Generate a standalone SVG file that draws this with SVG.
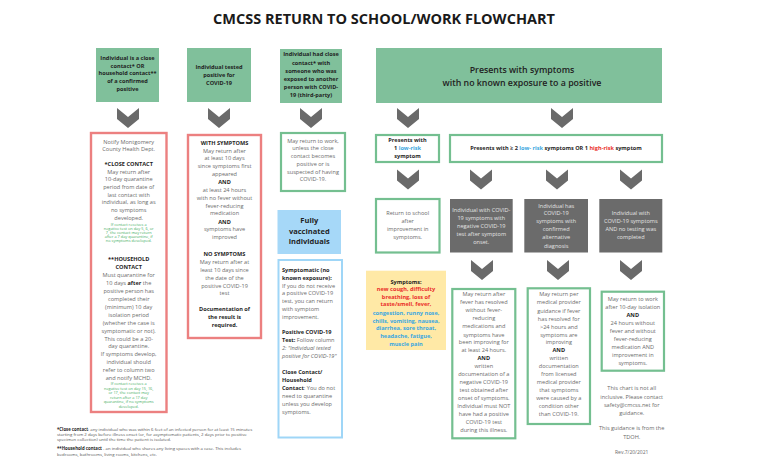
<svg xmlns="http://www.w3.org/2000/svg" width="768" height="466" viewBox="0 0 768 466">
<defs>
<style>
text{font-family:"Open Sans","Liberation Sans",sans-serif;text-anchor:middle;}
.t{font-size:5.6px;fill:#6b6b6b;}
.b{font-weight:700;fill:#1f1f1f;}
.h{font-size:5.6px;font-weight:700;fill:#1f1f1f;}
.gs{font-size:3.9px;fill:#3fae62;}
.w{font-size:5.6px;fill:#e4e4e4;}
.l{text-anchor:start;}
.hdr{fill:#80c09b;}
.gb{fill:#fff;stroke:#74bf90;stroke-width:2.2;}
.rb{fill:#fff;stroke:#ec8080;stroke-width:2.4;}
.gr{fill:#6b6b6b;}
.blue{fill:#3aa7e0;}
.red{fill:#ea2f2a;}
.chev{fill:#6a6a6a;}
.ft{font-size:4.3px;fill:#555;text-anchor:start;}
.fv{font-size:7.5px;font-weight:700;fill:#1f1f1f;}
</style>
<path id="chev" d="M-11,0 L0,9 L11,0 L11,11 L0,20 L-11,11 Z"/>
</defs>
<rect width="768" height="466" fill="#fff"/>
<text x="384" y="24" style="font-size:14.5px;font-weight:700;fill:#1a1a1a">CMCSS RETURN TO SCHOOL/WORK FLOWCHART</text>

<g id="connectors" class="chev">
<use href="#chev" x="128" y="108"/>
<use href="#chev" x="219" y="108"/>
<use href="#chev" x="311" y="108"/>
<use href="#chev" x="408" y="108"/>
<use href="#chev" x="562" y="108"/>
<use href="#chev" x="408" y="169.5"/>
<use href="#chev" x="481" y="169.5"/>
<use href="#chev" x="557" y="169.5"/>
<use href="#chev" x="631" y="169.5"/>
<use href="#chev" x="482" y="260"/>
<use href="#chev" x="558" y="260"/>
<use href="#chev" x="631" y="260"/>
</g>

<g id="close-contact">
<rect class="hdr" x="96" y="48" width="63" height="54"/>
<text class="h" x="127.5" y="60.3">Individual is a close</text>
<text class="h" x="127.5" y="68">contact* OR</text>
<text class="h" x="127.5" y="75.3">household contact**</text>
<text class="h" x="127.5" y="83.3">of a confirmed</text>
<text class="h" x="127.5" y="91.3">positive</text>
</g>

<g id="tested-positive">
<rect class="hdr" x="187" y="48" width="64" height="54"/>
<text class="h" x="219" y="68.7">Individual tested</text>
<text class="h" x="219" y="76.7">positive for</text>
<text class="h" x="219" y="84.7">COVID-19</text>
</g>

<g id="third-party">
<rect class="hdr" x="280" y="49" width="62" height="54"/>
<text class="h" x="311" y="56.3">Individual had close</text>
<text class="h" x="311" y="64.7">contact* with</text>
<text class="h" x="311" y="73">someone who was</text>
<text class="h" x="311" y="81">exposed to another</text>
<text class="h" x="311" y="89.3">person with COVID-</text>
<text class="h" x="311" y="97.3">19 (third-party)</text>
</g>

<g id="symptoms-no-exposure">
<rect class="hdr" x="376" y="48" width="286" height="55"/>
<text x="522" y="73" style="font-size:8.8px;font-weight:600;fill:#222">Presents with symptoms</text>
<text x="522" y="86.3" style="font-size:8.8px;font-weight:600;fill:#222">with no known exposure to a positive</text>
</g>

<g id="close-contact-guidance">
<rect class="rb" x="91" y="133" width="75.5" height="279"/>
<text class="t" x="128.7" y="143.7">Notify Montgomery</text>
<text class="t" x="128.7" y="151">County Health Dept.</text>
<text class="h" x="128.7" y="166.3">*CLOSE CONTACT</text>
<text class="t" x="128.7" y="174">May return after</text>
<text class="t" x="128.7" y="181.3">10-day quarantine</text>
<text class="t" x="128.7" y="189">period from date of</text>
<text class="t" x="128.7" y="196.7">last contact with</text>
<text class="t" x="128.7" y="204.3">individual, as long as</text>
<text class="t" x="128.7" y="212">no symptoms</text>
<text class="t" x="128.7" y="220">developed.</text>
<text class="gs" x="128.7" y="226">If contact receives a</text>
<text class="gs" x="128.7" y="230">negative test on day 5, 6, or</text>
<text class="gs" x="128.7" y="234">7, the contact may return</text>
<text class="gs" x="128.7" y="238.3">after a 7 day quarantine, if</text>
<text class="gs" x="128.7" y="242.3">no symptoms developed.</text>
<text class="h" x="128.7" y="260.7">**HOUSEHOLD</text>
<text class="h" x="128.7" y="269">CONTACT</text>
<text class="t" x="128.7" y="277">Must quarantine for</text>
<text class="t" x="128.7" y="285">10 days <tspan class="b">after</tspan> the</text>
<text class="t" x="128.7" y="293">positive person has</text>
<text class="t" x="128.7" y="301">completed their</text>
<text class="t" x="128.7" y="309">(minimum) 10 day</text>
<text class="t" x="128.7" y="317">isolation period</text>
<text class="t" x="128.7" y="325">(whether the case is</text>
<text class="t" x="128.7" y="333">symptomatic or not).</text>
<text class="t" x="128.7" y="341">This could be a 20-</text>
<text class="t" x="128.7" y="348">day quarantine.</text>
<text class="t" x="128.7" y="356">If symptoms develop,</text>
<text class="t" x="128.7" y="364">individual should</text>
<text class="t" x="128.7" y="372">refer to column two</text>
<text class="t" x="128.7" y="380">and notify MCHD.</text>
<text class="gs" x="128.7" y="385.4">If contact receives a</text>
<text class="gs" x="128.7" y="390">negative test on day 15, 16,</text>
<text class="gs" x="128.7" y="394.4">or 17, the contact may</text>
<text class="gs" x="128.7" y="399">return after a 17 day</text>
<text class="gs" x="128.7" y="403.4">quarantine, if no symptoms</text>
<text class="gs" x="128.7" y="407.6">developed.</text>
</g>

<g id="tested-positive-guidance">
<rect class="rb" x="188" y="135" width="73" height="203"/>
<text class="h" x="224.5" y="145.3">WITH SYMPTOMS</text>
<text class="t" x="224.5" y="152.7">May return after</text>
<text class="t" x="224.5" y="160.3">at least 10 days</text>
<text class="t" x="224.5" y="168">since symptoms first</text>
<text class="t" x="224.5" y="176">appeared</text>
<text class="h" x="224.5" y="183.7">AND</text>
<text class="t" x="224.5" y="192">at least 24 hours</text>
<text class="t" x="224.5" y="199.7">with no fever without</text>
<text class="t" x="224.5" y="207.7">fever-reducing</text>
<text class="t" x="224.5" y="215.3">medication</text>
<text class="h" x="224.5" y="223.7">AND</text>
<text class="t" x="224.5" y="231.3">symptoms have</text>
<text class="t" x="224.5" y="239">improved</text>
<text class="h" x="224.5" y="256">NO SYMPTOMS</text>
<text class="t" x="224.5" y="263.7">May return after at</text>
<text class="t" x="224.5" y="272">least 10 days since</text>
<text class="t" x="224.5" y="279.7">the date of the</text>
<text class="t" x="224.5" y="287.7">positive COVID-19</text>
<text class="t" x="224.5" y="295.3">test</text>
<text class="h" x="224.5" y="311.3">Documentation of</text>
<text class="h" x="224.5" y="319.3">the result is</text>
<text class="h" x="224.5" y="327.3">required.</text>
</g>

<g id="third-party-guidance">
<rect class="gb" x="281" y="133" width="64" height="58"/>
<text class="t" x="313" y="143">May return to work,</text>
<text class="t" x="313" y="150.3">unless the close</text>
<text class="t" x="313" y="158">contact becomes</text>
<text class="t" x="313" y="166">positive or is</text>
<text class="t" x="313" y="173.7">suspected of having</text>
<text class="t" x="313" y="181.3">COVID-19.</text>
</g>

<g id="fully-vaccinated">
<rect x="277.5" y="210" width="63.5" height="44" fill="#a6d8f8"/>
<text class="fv" x="309.3" y="223.2">Fully</text>
<text class="fv" x="309.3" y="233.5">vaccinated</text>
<text class="fv" x="309.3" y="243.8">individuals</text>
</g>

<g id="vaccinated-guidance">
<rect x="278.5" y="260" width="63.5" height="177.5" fill="#fff" stroke="#9fd6f7" stroke-width="2"/>
<text class="h l" x="282" y="272">Symptomatic (no</text>
<text class="h l" x="282" y="279.7">known exposure):</text>
<text class="t l" x="282" y="287.7">If you do not receive</text>
<text class="t l" x="282" y="295.3">a positive COVID-19</text>
<text class="t l" x="282" y="303.3">test, you can return</text>
<text class="t l" x="282" y="311.3">with symptom</text>
<text class="t l" x="282" y="319.3">improvement.</text>
<text class="h l" x="282" y="334">Positive COVID-19</text>
<text class="t l" x="282" y="342"><tspan class="b">Test:</tspan> Follow column</text>
<text class="t l" x="282" y="350" font-style="italic">2: "Individual tested</text>
<text class="t l" x="282" y="358" font-style="italic">positive for COVID-19"</text>
<text class="h l" x="282" y="374">Close Contact/</text>
<text class="h l" x="282" y="382">Household</text>
<text class="t l" x="282" y="390"><tspan class="b">Contact</tspan>: You do not</text>
<text class="t l" x="282" y="398">need to quarantine</text>
<text class="t l" x="282" y="406">unless you develop</text>
<text class="t l" x="282" y="414">symptoms.</text>
</g>

<g id="one-low-risk">
<rect class="gb" x="376" y="135" width="63" height="27"/>
<text class="h" x="407.5" y="142">Presents with</text>
<text class="h" x="407.5" y="149.7">1 <tspan class="blue">low-risk</tspan></text>
<text class="h" x="407.5" y="158">symptom</text>
</g>

<g id="two-low-or-high-risk">
<rect class="gb" x="450" y="135" width="212" height="27"/>
<text class="h" x="556" y="149.7">Presents with ≥ 2 <tspan class="blue">low- risk</tspan> symptoms OR 1 <tspan class="red">high-risk</tspan> symptom</text>
</g>

<g id="return-after-improvement">
<rect class="gb" x="376" y="199" width="63.5" height="53.5"/>
<text class="t" x="407.7" y="215.3">Return to school</text>
<text class="t" x="407.7" y="223">after</text>
<text class="t" x="407.7" y="231">improvement in</text>
<text class="t" x="407.7" y="239">symptoms.</text>
</g>

<g id="negative-test">
<rect class="gr" x="450" y="199" width="62.7" height="53.5"/>
<text class="w" x="481.3" y="212">Individual with COVID-</text>
<text class="w" x="481.3" y="220">19 symptoms with</text>
<text class="w" x="481.3" y="227.7">negative COVID-19</text>
<text class="w" x="481.3" y="235.7">test after symptom</text>
<text class="w" x="481.3" y="243.7">onset.</text>
</g>

<g id="alternative-diagnosis">
<rect class="gr" x="524.3" y="199" width="63.7" height="53.5"/>
<text class="w" x="556.2" y="208">Individual has</text>
<text class="w" x="556.2" y="215.3">COVID-19</text>
<text class="w" x="556.2" y="223">symptoms with</text>
<text class="w" x="556.2" y="231">confirmed</text>
<text class="w" x="556.2" y="239.3">alternative</text>
<text class="w" x="556.2" y="247.7">diagnosis</text>
</g>

<g id="no-testing">
<rect class="gr" x="599.3" y="199" width="63" height="53.5"/>
<text class="w" x="630.8" y="215.3">Individual with</text>
<text class="w" x="630.8" y="223.3">COVID-19 symptoms</text>
<text class="w" x="630.8" y="231.3">AND no testing was</text>
<text class="w" x="630.8" y="239">completed</text>
</g>

<g id="symptoms-list">
<rect x="366" y="270.7" width="80" height="79.3" fill="#ffe9a6"/>
<text class="h" x="406" y="283.7">Symptoms:</text>
<text class="h red" x="406" y="291.3">new cough, difficulty</text>
<text class="h red" x="406" y="298.7">breathing, loss of</text>
<text class="h red" x="406" y="306.3">taste/smell, fever,</text>
<text class="h blue" x="406" y="314.7">congestion, runny nose,</text>
<text class="h blue" x="406" y="322.7">chills, vomiting, nausea,</text>
<text class="h blue" x="406" y="330.3">diarrhea, sore throat,</text>
<text class="h blue" x="406" y="338">headache, fatigue,</text>
<text class="h blue" x="406" y="346">muscle pain</text>
</g>

<g id="negative-test-guidance">
<rect class="gb" x="452.3" y="289" width="63" height="149.3"/>
<text class="t" x="483.8" y="295.7">May return after</text>
<text class="t" x="483.8" y="304">fever has resolved</text>
<text class="t" x="483.8" y="312">without fever-</text>
<text class="t" x="483.8" y="320.3">reducing</text>
<text class="t" x="483.8" y="328.3">medications and</text>
<text class="t" x="483.8" y="336.7">symptoms have</text>
<text class="t" x="483.8" y="344.3">been improving for</text>
<text class="t" x="483.8" y="352">at least 24 hours.</text>
<text class="h" x="483.8" y="360.3">AND</text>
<text class="t" x="483.8" y="368.3">written</text>
<text class="t" x="483.8" y="376.3">documentation of a</text>
<text class="t" x="483.8" y="384.3">negative COVID-19</text>
<text class="t" x="483.8" y="392.3">test obtained after</text>
<text class="t" x="483.8" y="400">onset of symptoms.</text>
<text class="t" x="483.8" y="408">Individual must NOT</text>
<text class="t" x="483.8" y="416">have had a positive</text>
<text class="t" x="483.8" y="424.3">COVID-19 test</text>
<text class="t" x="483.8" y="432">during this illness.</text>
</g>

<g id="alternative-diagnosis-guidance">
<rect class="gb" x="527.7" y="288.3" width="62.3" height="135.7"/>
<text class="t" x="558.8" y="296.3">May return per</text>
<text class="t" x="558.8" y="304.3">medical provider</text>
<text class="t" x="558.8" y="312.7">guidance if fever</text>
<text class="t" x="558.8" y="320.7">has resolved for</text>
<text class="t" x="558.8" y="328.7">&gt;24 hours and</text>
<text class="t" x="558.8" y="336.7">symptoms are</text>
<text class="t" x="558.8" y="344.3">improving</text>
<text class="h" x="558.8" y="352">AND</text>
<text class="t" x="558.8" y="360.3">written</text>
<text class="t" x="558.8" y="368.3">documentation</text>
<text class="t" x="558.8" y="376.3">from licensed</text>
<text class="t" x="558.8" y="384.3">medical provider</text>
<text class="t" x="558.8" y="392.3">that symptoms</text>
<text class="t" x="558.8" y="400">were caused by a</text>
<text class="t" x="558.8" y="408">condition other</text>
<text class="t" x="558.8" y="416">than COVID-19.</text>
</g>

<g id="no-testing-guidance">
<rect class="gb" x="601.7" y="291.7" width="62.3" height="79"/>
<text class="t" x="632.8" y="301.3">May return to work</text>
<text class="t" x="632.8" y="309.3">after 10-day isolation</text>
<text class="h" x="632.8" y="317.3">AND</text>
<text class="t" x="632.8" y="324.7">24 hours without</text>
<text class="t" x="632.8" y="332.7">fever and without</text>
<text class="t" x="632.8" y="341">fever-reducing</text>
<text class="t" x="632.8" y="349.3">medication AND</text>
<text class="t" x="632.8" y="357.3">improvement in</text>
<text class="t" x="632.8" y="365.3">symptoms.</text>
</g>

<g id="notes">
<text class="t" x="631.7" y="390">This chart is not all</text>
<text class="t" x="631.7" y="398.7">inclusive.  Please contact</text>
<text class="t" x="631.7" y="406.7">safety@cmcss.net for</text>
<text class="t" x="631.7" y="415.3">guidance.</text>
<text class="t" x="631.7" y="430.3">This guidance is from the</text>
<text class="t" x="631.7" y="438.7">TDOH.</text>
<text class="t" x="631.7" y="454" style="font-size:5px">Rev.7/20/2021</text>
</g>

<g id="footnotes">
<text class="ft" x="57" y="430.5"><tspan class="b">*Close contact</tspan>: any individual who was within 6 feet of an infected person for at least 15 minutes</text>
<text class="ft" x="57" y="435.8">starting from 2 days before illness onset (or, for asymptomatic patients, 2 days prior to positive</text>
<text class="ft" x="57" y="441.2">specimen collection) until the time the patient is isolated.</text>
<text class="ft" x="57" y="449.5"><tspan class="b">**Household contact</tspan> - an individual who shares any living spaces with a case.  This includes</text>
<text class="ft" x="57" y="455.8">bedrooms, bathrooms, living rooms, kitchens, etc.</text>
</g>
</svg>
